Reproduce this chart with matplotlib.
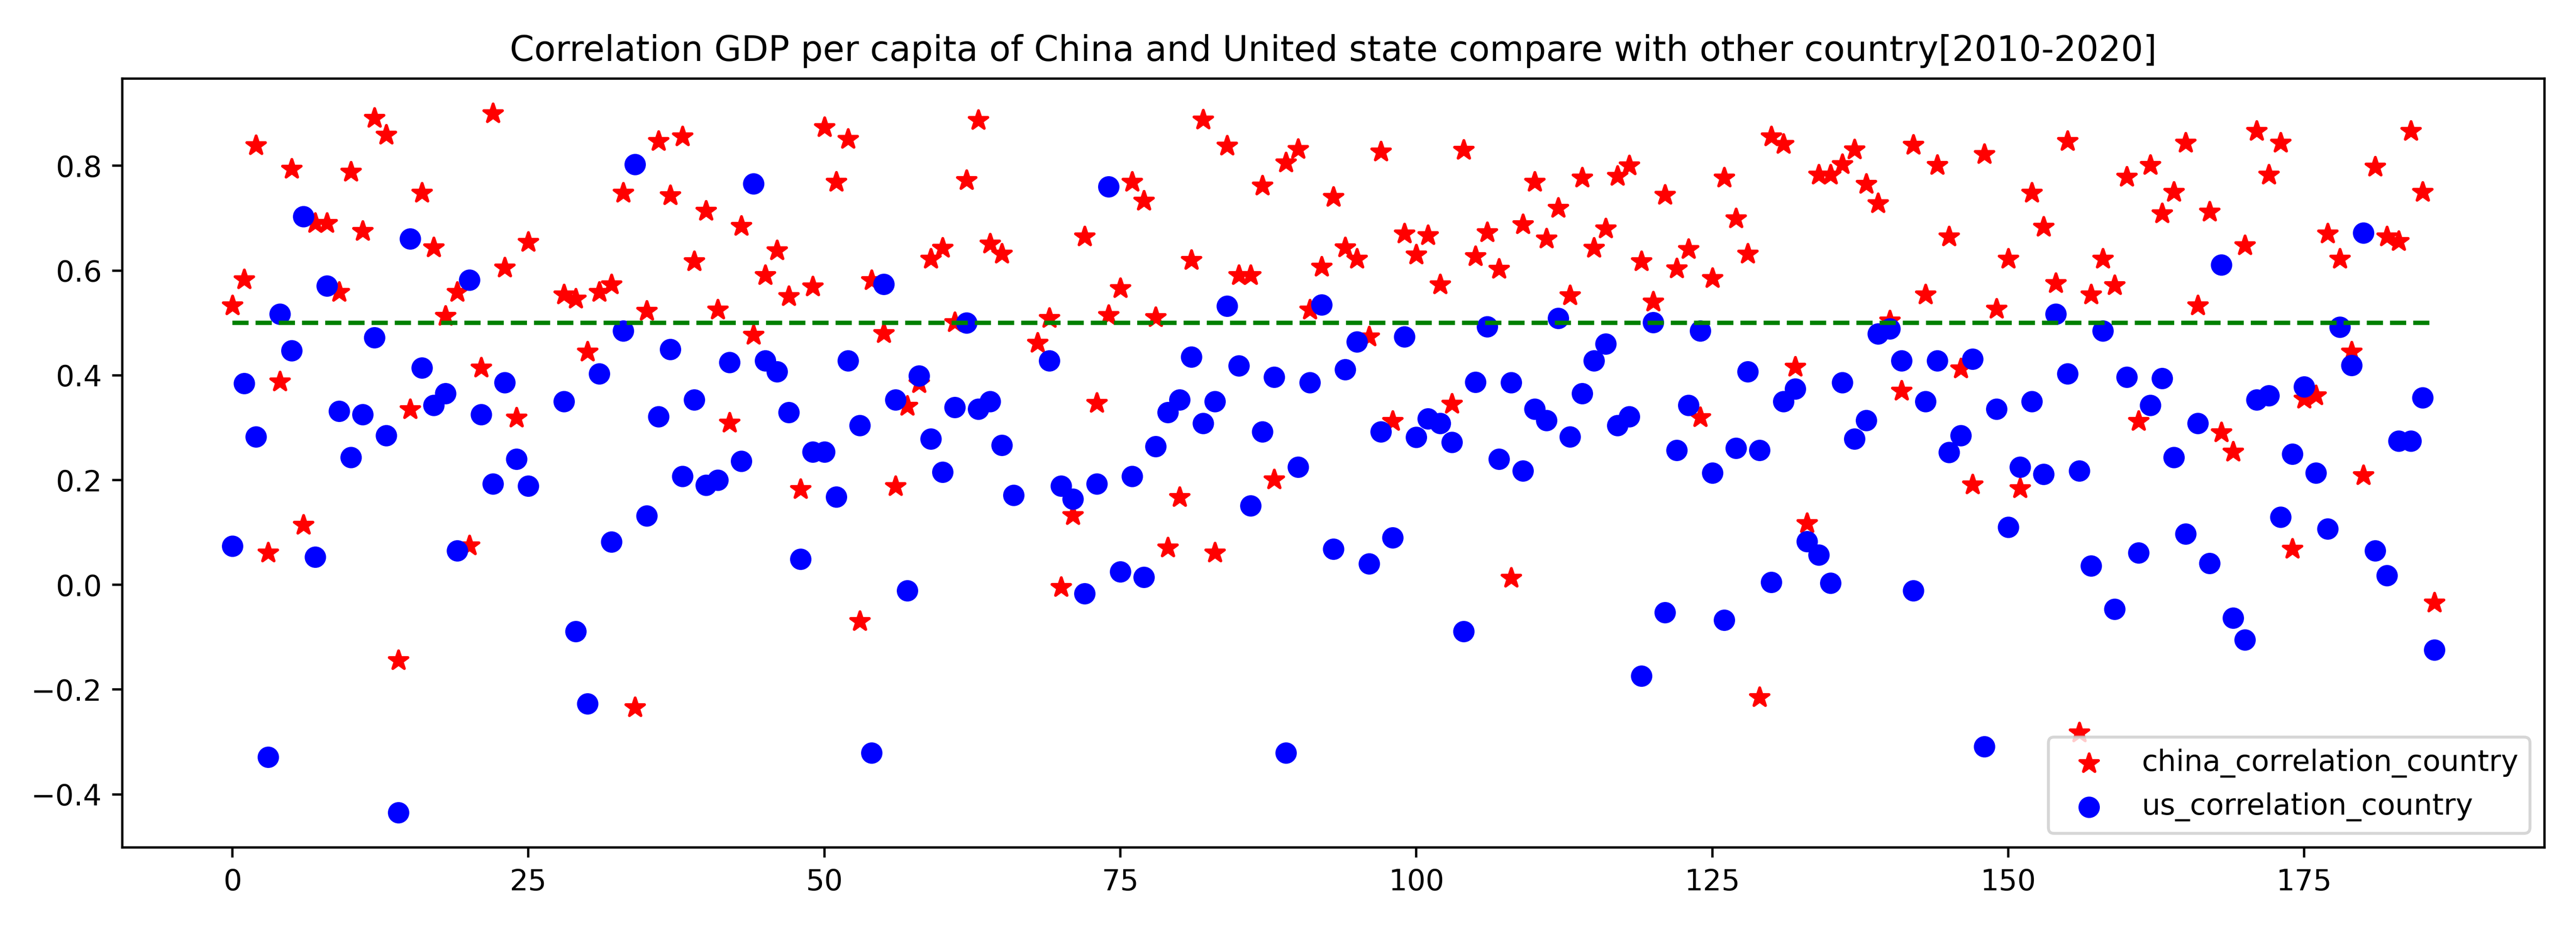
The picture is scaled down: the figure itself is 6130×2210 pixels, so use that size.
import numpy as np
import matplotlib
matplotlib.use('Agg')
import matplotlib.pyplot as plt

nan = np.nan

# correlation of each country with China (index 0..186)
china_corr = [
    0.533, 0.583, 0.839, 0.061, 0.388, 0.794, 0.114, 0.69, 0.69, 0.559,
    0.788, 0.675, 0.891, 0.859, -0.144, 0.335, 0.748, 0.644, 0.513, 0.559,
    0.075, 0.414, 0.90, 0.605, 0.319, 0.654, nan, nan, 0.554, 0.546,
    0.445, 0.559, 0.573, 0.748, -0.234, 0.523, 0.847, 0.743, 0.856, 0.617,
    0.714, 0.525, 0.309, 0.685, 0.477, 0.591, 0.638, 0.551, 0.182, 0.569,
    0.873, 0.769, 0.851, -0.07, 0.581, 0.48, 0.188, 0.341, 0.385, 0.622,
    0.643, 0.501, 0.772, 0.887, 0.651, 0.632, nan, nan, 0.462, 0.509,
    -0.005, 0.133, 0.665, 0.347, 0.515, 0.566, 0.769, 0.733, 0.511, 0.071,
    0.167, 0.62, 0.888, 0.061, 0.838, 0.591, 0.591, 0.762, 0.201, 0.806,
    0.832, 0.525, 0.607, 0.74, 0.644, 0.622, 0.474, 0.827, 0.312, 0.67,
    0.63, 0.667, 0.573, 0.345, 0.83, 0.627, 0.673, 0.603, 0.013, 0.688,
    0.769, 0.661, 0.719, 0.552, 0.777, 0.643, 0.68, 0.78, 0.8, 0.617,
    0.54, 0.744, 0.604, 0.641, 0.32, 0.585, 0.777, 0.699, 0.632, -0.215,
    0.856, 0.841, 0.416, 0.117, 0.783, 0.783, 0.803, 0.831, 0.765, 0.728,
    0.504, 0.37, 0.84, 0.554, 0.801, 0.665, 0.413, 0.191, 0.822, 0.527,
    0.622, 0.184, 0.748, 0.683, 0.576, 0.847, -0.282, 0.554, 0.622, 0.572,
    0.779, 0.312, 0.801, 0.709, 0.75, 0.844, 0.533, 0.712, 0.291, 0.254,
    0.648, 0.866, 0.783, 0.844, 0.068, 0.355, 0.361, 0.67, 0.622, 0.445,
    0.209, 0.798, 0.665, 0.656, 0.866, 0.75, -0.034,
]

# correlation of each country with the United States
us_corr = [
    0.074, 0.385, 0.283, -0.329, 0.517, 0.447, 0.703, 0.053, 0.571, 0.332,
    0.243, 0.325, 0.472, 0.285, -0.435, 0.661, 0.414, 0.343, 0.365, 0.065,
    0.582, 0.325, 0.193, 0.386, 0.24, 0.189, nan, nan, 0.35, -0.089,
    -0.227, 0.403, 0.082, 0.485, 0.803, 0.132, 0.321, 0.45, 0.207, 0.353,
    0.19, 0.2, 0.425, 0.236, 0.766, 0.428, 0.407, 0.329, 0.049, 0.254,
    0.254, 0.168, 0.428, 0.304, -0.321, 0.574, 0.353, -0.011, 0.399, 0.279,
    0.215, 0.339, 0.5, 0.336, 0.35, 0.267, 0.171, nan, nan, 0.428,
    0.189, 0.164, -0.017, 0.193, 0.76, 0.025, 0.207, 0.015, 0.264, 0.329,
    0.353, 0.435, 0.308, 0.35, 0.532, 0.418, 0.151, 0.292, 0.397, -0.321,
    0.225, 0.386, 0.535, 0.068, 0.411, 0.464, 0.04, 0.292, 0.09, 0.474,
    0.282, 0.317, 0.308, 0.272, -0.089, 0.387, 0.493, 0.24, 0.386, 0.218,
    0.336, 0.314, 0.509, 0.283, 0.365, 0.428, 0.46, 0.304, 0.321, -0.174,
    0.501, -0.053, 0.257, 0.343, 0.485, 0.214, -0.067, 0.261, 0.407, 0.257,
    0.005, 0.35, 0.374, 0.083, 0.057, 0.003, 0.386, 0.279, 0.314, 0.479,
    0.489, 0.428, -0.011, 0.35, 0.428, 0.253, 0.285, 0.431, -0.309, 0.336,
    0.11, 0.225, 0.35, 0.211, 0.517, 0.403, 0.218, 0.036, 0.485, -0.046,
    0.397, 0.061, 0.343, 0.394, 0.243, 0.097, 0.308, 0.041, 0.611, -0.063,
    -0.105, 0.353, 0.361, 0.129, 0.25, 0.378, 0.214, 0.107, 0.492, 0.419,
    0.672, 0.065, 0.018, 0.275, 0.275, 0.357, -0.124,
]
threshold = 0.5

idx = np.arange(len(china_corr))

fig, ax = plt.subplots(figsize=(12.26, 4.42))
ax.scatter(idx, china_corr, marker='*', color='red', s=45, label='china_correlation_country')
ax.scatter(idx, us_corr, marker='o', color='blue', s=40, label='us_correlation_country')
ax.hlines(threshold, idx[0], idx[-1], colors='green', linestyles='dashed')
ax.set_title('Correlation GDP per capita of China and United state compare with other country[2010-2020]')
ax.legend(loc='lower right')
plt.tight_layout()
plt.savefig('out.png', dpi=500)
